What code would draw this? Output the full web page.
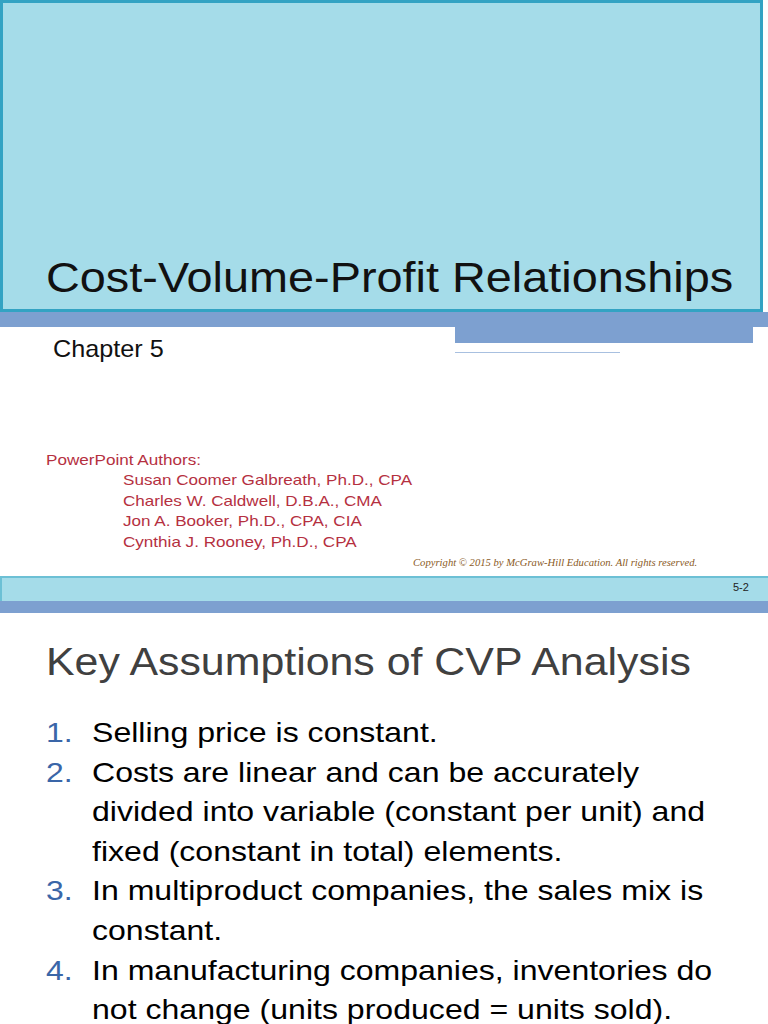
<!DOCTYPE html>
<html>
<head>
<meta charset="utf-8">
<script src="https://cdn.jsdelivr.net/npm/chart.js@4"></script>
<style>
  html, body { margin: 0; padding: 0; background: #fff; }
  body { width: 768px; height: 1024px; position: relative; overflow: hidden;
         font-family: "Liberation Sans", Arial, sans-serif; }
  .abs { position: absolute; white-space: nowrap; transform-origin: 0 0; }
  #titlePanel { left: 0; top: 0; width: 763px; height: 312px; background: #a5dce9;
                border: 3px solid #33a3c3; box-sizing: border-box; }
  #band1 { left: 0; top: 312px; width: 768px; height: 15px; background: #7da0d0; }
  #band1b { left: 455px; top: 327px; width: 298px; height: 16px; background: #7da0d0; }
  #thin { left: 455px; top: 352px; width: 165px; height: 1px; background: #a8c0e0; }
  #title { left: 46px; top: 253px; font-size: 43px; color: #111; transform: scaleX(1.089); }
  #chapter { left: 53px; top: 335px; font-size: 24px; color: #111; transform: scaleX(1.05); }
  #authHead { left: 46px; top: 451px; font-size: 15px; color: #b5303f; transform: scaleX(1.14); }
  .auth { left: 123px; font-size: 15px; color: #b5303f; transform: scaleX(1.138); }
  #copy { left: 413px; top: 557px; font-family: "Liberation Serif", serif; font-style: italic;
          font-size: 10px; color: #8a5a25; transform: scaleX(1.064); }
  #panel2 { left: 0; top: 576px; width: 768px; height: 25px; background: #a5dce9;
            border-top: 2px solid #6cc0d5; border-left: 2px solid #6cc0d5; box-sizing: border-box; }
  #band2 { left: 0; top: 601px; width: 768px; height: 12px; background: #7da0d0; }
  #pageNo { left: 733px; top: 581px; font-size: 11px; color: #222; }
  #heading { left: 46px; top: 641px; font-size: 38px; color: #404040; transform: scaleX(1.128); }
  .num { left: 46px; font-size: 28px; color: #3a66a8; transform: scaleX(1.14); }
  .item { left: 92px; font-size: 28px; color: #000; transform: scaleX(1.145); }
</style>
</head>
<body>
<div id="titlePanel" class="abs"></div>
<div id="band1" class="abs"></div>
<div id="band1b" class="abs"></div>
<div id="thin" class="abs"></div>
<div id="title" class="abs"></div>
<div id="chapter" class="abs"></div>
<div id="authHead" class="abs"></div>
<div id="copy" class="abs"></div>
<div id="panel2" class="abs"></div>
<div id="band2" class="abs"></div>
<div id="pageNo" class="abs"></div>
<div id="heading" class="abs"></div>

<script>
'use strict';

// slide text
let slideTitle = 'Cost-Volume-Profit Relationships';
let chapterLabel = 'Chapter 5';
let authorHeading = 'PowerPoint Authors:';
let authors = [
  'Susan Coomer Galbreath, Ph.D., CPA',
  'Charles W. Caldwell, D.B.A., CMA',
  'Jon A. Booker, Ph.D., CPA, CIA',
  'Cynthia J. Rooney, Ph.D., CPA'
];
let copyright = 'Copyright \u00a9 2015 by McGraw-Hill Education. All rights reserved.';
let pageNumber = '5-2';
let heading = 'Key Assumptions of CVP Analysis';
// each assumption is a list of wrapped lines
let assumptions = [
  ['Selling price is constant.'],
  ['Costs are linear and can be accurately', 'divided into variable (constant per unit) and', 'fixed (constant in total) elements.'],
  ['In multiproduct companies, the sales mix is', 'constant.'],
  ['In manufacturing companies, inventories do', 'not change (units produced = units sold).']
];

document.getElementById('title').textContent = slideTitle;
document.getElementById('chapter').textContent = chapterLabel;
document.getElementById('authHead').textContent = authorHeading;
document.getElementById('copy').textContent = copyright;
document.getElementById('pageNo').textContent = pageNumber;
document.getElementById('heading').textContent = heading;

function addLine(cls, text, top) {
  let el = document.createElement('div');
  el.className = 'abs ' + cls;
  el.style.top = top + 'px';
  el.textContent = text;
  document.body.appendChild(el);
}

for (let i = 0; i < authors.length; i++) {
  addLine('auth', authors[i], 471 + i * 20.5);
}

let lineTop = 717;
for (let i = 0; i < assumptions.length; i++) {
  addLine('num', (i + 1) + '.', lineTop);
  for (let j = 0; j < assumptions[i].length; j++) {
    addLine('item', assumptions[i][j], lineTop);
    lineTop += 39.6;
  }
}
</script>
</body>
</html>
